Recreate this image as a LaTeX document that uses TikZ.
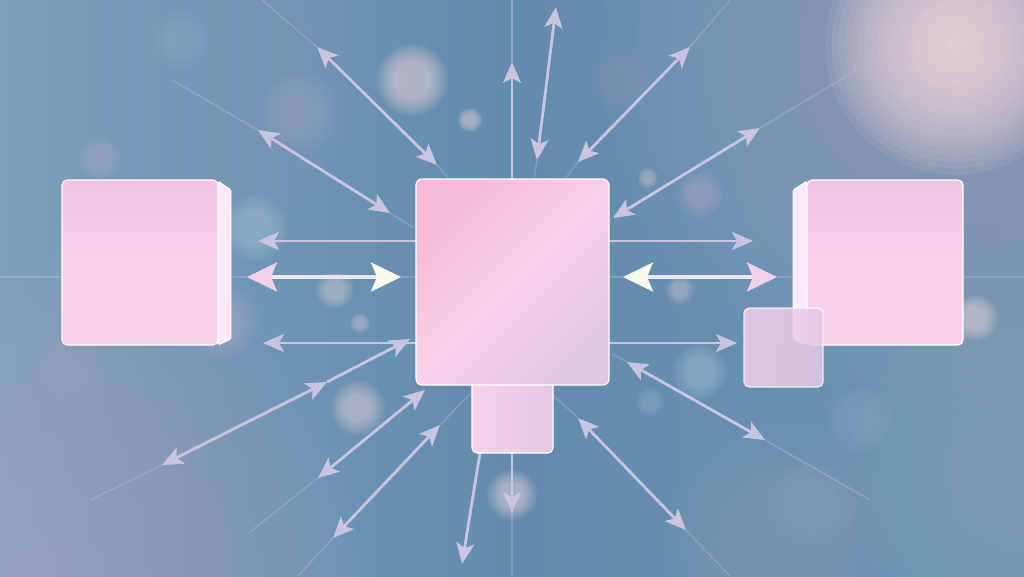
\documentclass[tikz,border=0pt]{standalone}
\usetikzlibrary{arrows.meta}
\definecolor{bgL}{HTML}{7CA0BD}
\definecolor{bgM}{HTML}{628BAD}
\definecolor{bgR}{HTML}{6C93B3}
\definecolor{lav}{HTML}{B2ADCC}
\definecolor{peach}{HTML}{F8DCE0}
\definecolor{ltblue}{HTML}{A6C3DA}
\definecolor{arrc}{HTML}{CAC4E1}
\definecolor{bigl}{HTML}{ECE6F3}
\definecolor{headP}{HTML}{F3D0EA}
\definecolor{headW}{HTML}{FAF9EE}
\definecolor{pkA}{HTML}{F7BADA}
\definecolor{pkB}{HTML}{F7D0E9}
\definecolor{pkC}{HTML}{E3C8E6}
\definecolor{pkD}{HTML}{EFC5E3}
\definecolor{side}{HTML}{FBEAF6}
\newcommand\glowc[5]{\foreach \k in {1,...,20}{\fill[#4,opacity=#5] (#1,#2) circle[radius={#3*\k/20*1pt}];}}
\newcommand\bokeh[5]{\foreach \k in {1,...,8}{\fill[#4,opacity=#5] (#1,#2) circle[radius={#3*(0.45+0.075*\k)*1pt}];}}
\tikzset{
  tp/.tip={Stealth[length=21pt,width=18pt,inset=5pt]},
  arr/.style={draw=arrc, line width=2.8pt},
  faint/.style={draw=arrc, line width=1.6pt, opacity=0.3},
  bigarr/.style={draw=bigl, line width=3.6pt},
  box/.style={rounded corners=5pt, inner sep=0pt, outer sep=0pt, draw=white, line width=1.1pt},
  sideface/.style={fill=side, draw=white, line width=0.8pt, rounded corners=1.5pt}
}
\begin{document}
\begin{tikzpicture}[x=1pt,y=-1pt]
\useasboundingbox (0,0) rectangle (1024,576);
% background
\shade[left color=bgL, right color=bgR, middle color=bgM] (0,0) rectangle (1024,576);
\glowc{40}{580}{320}{lav}{0.045}
\glowc{960}{50}{360}{lav}{0.04}
\glowc{955}{45}{130}{peach}{0.085}
\glowc{150}{60}{220}{ltblue}{0.02}
\glowc{1010}{470}{170}{ltblue}{0.025}
\glowc{780}{540}{120}{ltblue}{0.02}
% bokeh
\bokeh{412}{80}{34}{peach}{0.09}
\bokeh{300}{112}{38}{lav}{0.05}
\bokeh{470}{120}{12}{peach}{0.07}
\bokeh{592}{195}{14}{peach}{0.05}
\bokeh{700}{195}{22}{lav}{0.08}
\bokeh{648}{178}{10}{peach}{0.05}
\bokeh{255}{228}{32}{ltblue}{0.08}
\bokeh{335}{290}{18}{peach}{0.06}
\bokeh{360}{323}{10}{peach}{0.05}
\bokeh{358}{408}{26}{peach}{0.07}
\bokeh{512}{495}{24}{peach}{0.08}
\bokeh{975}{318}{22}{peach}{0.08}
\bokeh{100}{158}{20}{lav}{0.07}
\bokeh{222}{322}{36}{lav}{0.07}
\bokeh{68}{370}{32}{lav}{0.04}
\bokeh{700}{372}{26}{ltblue}{0.08}
\bokeh{650}{402}{14}{ltblue}{0.05}
\bokeh{860}{420}{32}{ltblue}{0.04}
\bokeh{812}{505}{42}{ltblue}{0.04}
\bokeh{680}{290}{14}{peach}{0.05}
\bokeh{620}{80}{30}{lav}{0.03}
\bokeh{180}{40}{30}{ltblue}{0.03}
% faint guide lines
\coordinate (hl) at (0,277); \coordinate (hr) at (1024,277);
\coordinate (vt) at (512,0); \coordinate (vb) at (512,576);
\draw[faint] (hl) -- (hr);
\draw[faint] (vt) -- (vb);
% coordinates for radial arrows
\coordinate (R1a) at (317,47);  \coordinate (R1b) at (437,165); \coordinate (R1c) at (449,179); \coordinate (R1d) at (262,0);
\coordinate (R2a) at (258,130); \coordinate (R2b) at (390,213); \coordinate (R2c) at (414,228); \coordinate (R2d) at (172,80);
\coordinate (R3a) at (512,179); \coordinate (R3b) at (512,62);
\coordinate (R4a) at (556,7);   \coordinate (R4b) at (537,160); \coordinate (R4c) at (534,179);
\coordinate (R5a) at (690,47);  \coordinate (R5b) at (578,162); \coordinate (R5c) at (565,179); \coordinate (R5d) at (730,0);
\coordinate (R6a) at (760,128); \coordinate (R6b) at (613,218); \coordinate (R6d) at (860,68);
\coordinate (L1a) at (162,465); \coordinate (L1m) at (327,382); \coordinate (L1b) at (410,339); \coordinate (L1d) at (90,500);
\coordinate (L2a) at (318,478); \coordinate (L2b) at (425,390); \coordinate (L2d) at (250,532);
\coordinate (L3a) at (333,538); \coordinate (L3b) at (440,425); \coordinate (L3c) at (471,393); \coordinate (L3d) at (298,576);
\coordinate (B1a) at (480,453); \coordinate (B1b) at (462,564);
\coordinate (B2a) at (512,453); \coordinate (B2b) at (512,513);
\coordinate (B3a) at (578,418); \coordinate (B3b) at (686,530); \coordinate (B3c) at (554,396); \coordinate (B3d) at (730,576);
\coordinate (B4a) at (627,362); \coordinate (B4b) at (765,440); \coordinate (B4c) at (612,354); \coordinate (B4d) at (870,500);
% horizontal arrows coordinates
\coordinate (H1a) at (416,241); \coordinate (H1b) at (258,241);
\coordinate (H3a) at (416,343); \coordinate (H3b) at (263,343);
\coordinate (H4a) at (609,241); \coordinate (H4b) at (753,241);
\coordinate (H6a) at (609,343); \coordinate (H6b) at (737,343);
\coordinate (H2a) at (247,277); \coordinate (H2b) at (401,277);
\coordinate (H5a) at (623,277); \coordinate (H5b) at (777,277);
% faint extensions
\draw[faint] (R1a) -- (R1d);  \draw[faint] (R1b) -- (R1c);
\draw[faint] (R2a) -- (R2d);  \draw[faint] (R2b) -- (R2c);
\draw[faint] (R3b) -- (vt);
\draw[faint] (R4b) -- (R4c);
\draw[faint] (R5a) -- (R5d);  \draw[faint] (R5b) -- (R5c);
\draw[faint] (R6a) -- (R6d);
\draw[faint] (L1a) -- (L1d);
\draw[faint] (L2a) -- (L2d);
\draw[faint] (L3a) -- (L3d);  \draw[faint] (L3b) -- (L3c);
\draw[faint] (B3a) -- (B3c);  \draw[faint] (B3b) -- (B3d);
\draw[faint] (B4a) -- (B4c);  \draw[faint] (B4b) -- (B4d);
% arrows
\draw[arr, tp-tp] (R1a) -- (R1b);
\draw[arr, tp-tp] (R2a) -- (R2b);
\draw[arr, -tp] (R3a) -- (R3b);
\draw[arr, tp-tp] (R4a) -- (R4b);
\draw[arr, tp-tp] (R5a) -- (R5b);
\draw[arr, tp-tp] (R6a) -- (R6b);
\draw[arr, tp-tp] (L1a) -- (L1m);
\draw[arr, -tp] (L1m) -- (L1b);
\draw[arr, tp-tp] (L2a) -- (L2b);
\draw[arr, tp-tp] (L3a) -- (L3b);
\draw[arr, -tp] (B1a) -- (B1b);
\draw[arr, -tp] (B2a) -- (B2b);
\draw[arr, tp-tp] (B3a) -- (B3b);
\draw[arr, tp-tp] (B4a) -- (B4b);
\draw[arr, -tp] (H1a) -- (H1b);
\draw[arr, -tp] (H3a) -- (H3b);
\draw[arr, -tp] (H4a) -- (H4b);
\draw[arr, -tp] (H6a) -- (H6b);
\draw[bigarr, {Stealth[length=30pt,width=29pt,inset=6pt,color=headP]}-{Stealth[length=30pt,width=29pt,inset=6pt,color=headW]}] (H2a) -- (H2b);
\draw[bigarr, {Stealth[length=30pt,width=29pt,inset=6pt,color=headW]}-{Stealth[length=30pt,width=29pt,inset=6pt,color=headP]}] (H5a) -- (H5b);
% boxes
\node[box, minimum width=81pt, minimum height=72pt, left color=pkB, right color=pkC] (SB) at (512.5,417) {};
\node[box, rounded corners=6pt, minimum width=193pt, minimum height=206pt, left color=pkA, right color=pkC, middle color=pkB, shading angle=45] (C) at (512.5,282) {};
% left box
\filldraw[sideface] (218,181) -- (231,190) -- (231,339) -- (218,345) -- cycle;
\node[box, minimum width=156pt, minimum height=165pt, top color=pkD, bottom color=pkB, middle color=pkB] (L) at (140,262.5) {};
% right box
\filldraw[sideface] (807,181) -- (793,190) -- (793,339) -- (807,345) -- cycle;
\node[box, minimum width=156pt, minimum height=165pt, top color=pkD, bottom color=pkB, middle color=pkB] (R) at (885,262.5) {};
% small right box (translucent, in front)
\node[box, minimum width=79pt, minimum height=79pt, left color=pkB, right color=pkC, fill opacity=0.85, draw opacity=0.8] (S) at (783.5,347.5) {};
\end{tikzpicture}
\end{document}
